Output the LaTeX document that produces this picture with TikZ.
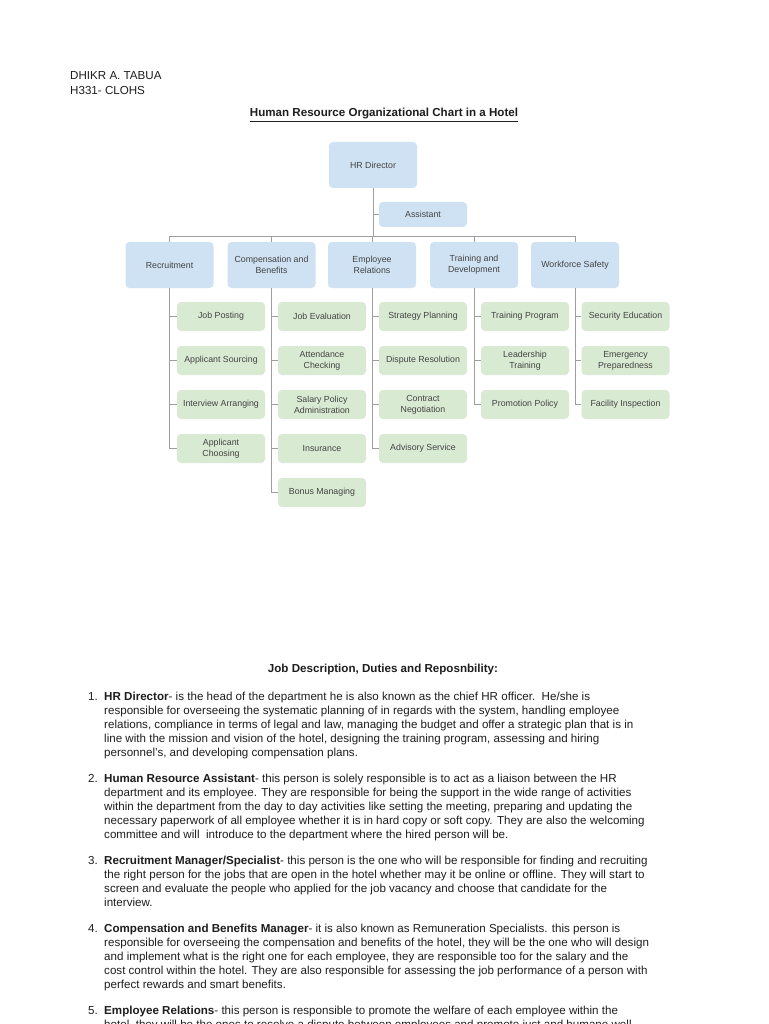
\documentclass[tikz,border=0pt]{standalone}
\usepackage{fontspec}
\setmainfont{Liberation Sans}

\definecolor{deptblue}{HTML}{CFE2F3}
\definecolor{taskgreen}{HTML}{D9EAD3}
\definecolor{boxink}{HTML}{434343}
\definecolor{linkgray}{HTML}{9E9E9E}
\definecolor{bodyink}{HTML}{1E1E1E}

\tikzset{
  deptbox/.style={fill=deptblue, rounded corners=4pt, inner sep=0pt,
    minimum width=88pt, minimum height=46pt, align=center, text=boxink,
    font=\fontsize{8.8}{11}\selectfont},
  taskbox/.style={deptbox, fill=taskgreen, minimum height=29pt},
  link/.style={draw=linkgray, line width=0.9pt},
  bodytext/.style={anchor=base west, inner sep=0pt, align=left, text=bodyink,
    font=\fontsize{11.6}{14}\selectfont},
  % several lines: the first line carries a strut, its baseline lies about 8pt below the top
  paragraph/.style={bodytext, anchor=north west, execute at begin node=\strut}
}

\begin{document}
\begin{tikzpicture}[x=1pt, y=-1pt]
  \useasboundingbox[fill=white] (0,0) rectangle (768,1024);
  \clip (0,0) rectangle (768,1024);

  % Header
  \node[bodytext] (author) at (70,80) {DHIKR A. TABUA};
  \node[bodytext] (course) at (70,95) {H331- CLOHS};
  \node[bodytext, anchor=base] (charttitle) at (384,117)
    {\underline{\textbf{Human Resource Organizational Chart in a Hotel}}};

  % Top of the chart
  \node[deptbox] (dir) at (373,165) {HR Director};
  \node[deptbox, minimum height=25pt] (asst) at (423,214.5) {Assistant};
  \coordinate (bus) at (0,236);

  % Departments
  \node[deptbox] (rec) at (169.5,265) {Recruitment};
  \node[deptbox] (cab) at (271.5,265) {Compensation and\\Benefits};
  \node[deptbox] (emp) at (372,265) {Employee\\Relations};
  \node[deptbox] (trd) at (474,265) {Training and\\Development};
  \node[deptbox] (wfs) at (575,265) {Workforce Safety};

  % Tasks under each department
  \node[taskbox] (rec1) at (221,316.5) {Job Posting};
  \node[taskbox] (rec2) at (221,360.5) {Applicant Sourcing};
  \node[taskbox] (rec3) at (221,404.5) {Interview Arranging};
  \node[taskbox] (rec4) at (221,448.5) {Applicant\\Choosing};

  \node[taskbox] (cab1) at (322,316.5) {Job Evaluation};
  \node[taskbox] (cab2) at (322,360.5) {Attendance\\Checking};
  \node[taskbox] (cab3) at (322,404.5) {Salary Policy\\Administration};
  \node[taskbox] (cab4) at (322,448.5) {Insurance};
  \node[taskbox] (cab5) at (322,492.5) {Bonus Managing};

  \node[taskbox] (emp1) at (423,316.5) {Strategy Planning};
  \node[taskbox] (emp2) at (423,360.5) {Dispute Resolution};
  \node[taskbox] (emp3) at (423,404.5) {Contract\\Negotiation};
  \node[taskbox] (emp4) at (423,448.5) {Advisory Service};

  \node[taskbox] (trd1) at (525,316.5) {Training Program};
  \node[taskbox] (trd2) at (525,360.5) {Leadership\\Training};
  \node[taskbox] (trd3) at (525,404.5) {Promotion Policy};

  \node[taskbox] (wfs1) at (625.5,316.5) {Security Education};
  \node[taskbox] (wfs2) at (625.5,360.5) {Emergency\\Preparedness};
  \node[taskbox] (wfs3) at (625.5,404.5) {Facility Inspection};

  % Connectors
  \draw[link] (dir.south) -- (dir.south |- bus);
  \draw[link] (dir.south |- asst.west) -- (asst.west);
  \draw[link] (rec.north) -- (rec.north |- bus) -| (wfs.north);
  \draw[link] (cab.north) -- (cab.north |- bus);
  \draw[link] (emp.north) -- (emp.north |- bus);
  \draw[link] (trd.north) -- (trd.north |- bus);

  \draw[link] (rec.south) |- (rec4.west);
  \foreach \k in {rec1,rec2,rec3} \draw[link] (rec.south |- \k.west) -- (\k.west);
  \draw[link] (cab.south) |- (cab5.west);
  \foreach \k in {cab1,cab2,cab3,cab4} \draw[link] (cab.south |- \k.west) -- (\k.west);
  \draw[link] (emp.south) |- (emp4.west);
  \foreach \k in {emp1,emp2,emp3} \draw[link] (emp.south |- \k.west) -- (\k.west);
  \draw[link] (trd.south) |- (trd3.west);
  \foreach \k in {trd1,trd2} \draw[link] (trd.south |- \k.west) -- (\k.west);
  \draw[link] (wfs.south) |- (wfs3.west);
  \foreach \k in {wfs1,wfs2} \draw[link] (wfs.south |- \k.west) -- (\k.west);

  % Job descriptions
  \node[bodytext, anchor=base] (jobtitle) at (383,672)
    {\textbf{Job Description, Duties and Reposnbility:}};

  \node[bodytext] (num1) at (88,700) {1.};
  \node[paragraph] (item1) at (104,692.2) {\textbf{HR Director}- is the head of the department he is also known as the chief HR officer.\ \ He/she is\\
    responsible for overseeing the systematic planning of in regards with the system, handling employee\\
    relations, compliance in terms of legal and law, managing the budget and offer a strategic plan that is in\\
    line with the mission and vision of the hotel, designing the training program, assessing and hiring\\
    personnel's, and developing compensation plans.};

  \node[bodytext] (num2) at (88,782) {2.};
  \node[paragraph] (item2) at (104,774.2) {\textbf{Human Resource Assistant}- this person is solely responsible is to act as a liaison between the HR\\
    department and its employee. They are responsible for being the support in the wide range of activities\\
    within the department from the day to day activities like setting the meeting, preparing and updating the\\
    necessary paperwork of all employee whether it is in hard copy or soft copy. They are also the welcoming\\
    committee and will\ \ introduce to the department where the hired person will be.};

  \node[bodytext] (num3) at (88,864) {3.};
  \node[paragraph] (item3) at (104,856.2) {\textbf{Recruitment Manager/Specialist}- this person is the one who will be responsible for finding and recruiting\\
    the right person for the jobs that are open in the hotel whether may it be online or offline. They will start to\\
    screen and evaluate the people who applied for the job vacancy and choose that candidate for the\\
    interview.};

  \node[bodytext] (num4) at (88,932) {4.};
  \node[paragraph] (item4) at (104,924.2) {\textbf{Compensation and Benefits Manager}- it is also known as Remuneration Specialists. this person is\\
    responsible for overseeing the compensation and benefits of the hotel, they will be the one who will design\\
    and implement what is the right one for each employee, they are responsible too for the salary and the\\
    cost control within the hotel. They are also responsible for assessing the job performance of a person with\\
    perfect rewards and smart benefits.};

  \node[bodytext] (num5) at (88,1014) {5.};
  \node[paragraph] (item5) at (104,1006.2) {\textbf{Employee Relations}- this person is responsible to promote the welfare of each employee within the\\
    hotel, they will be the ones to resolve a dispute between employees and promote just and humane well};
\end{tikzpicture}
\end{document}
